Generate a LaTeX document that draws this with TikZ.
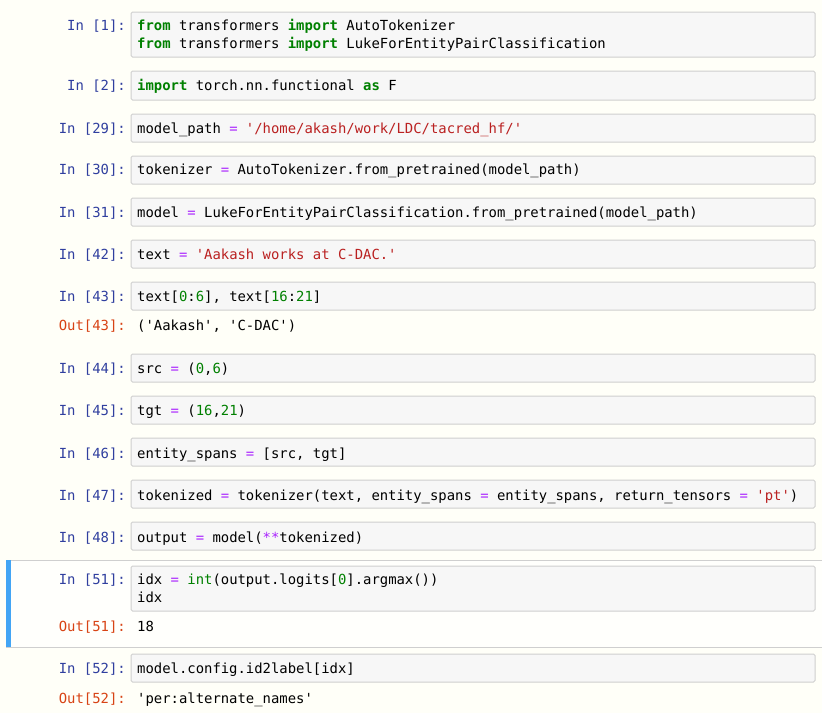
\documentclass[tikz,border=0pt]{standalone}
\usepackage{fontspec}
\setmonofont{DejaVu Sans Mono}
\definecolor{bg}{HTML}{FFFFF8}
\definecolor{boxfill}{HTML}{F7F7F7}
\definecolor{boxline}{HTML}{CFCFCF}
\definecolor{pin}{HTML}{303F9F}
\definecolor{pout}{HTML}{D84315}
\definecolor{kwc}{HTML}{008000}
\definecolor{stc}{HTML}{BA2121}
\definecolor{opc}{HTML}{AA22FF}
\definecolor{selbar}{HTML}{42A5F5}
\newcommand{\kw}[1]{\textcolor{kwc}{\bfseries #1}}
\newcommand{\bi}[1]{\textcolor{kwc}{#1}}
\newcommand{\st}[1]{\textcolor{stc}{#1}}
\newcommand{\op}[1]{\textcolor{opc}{#1}}
\tikzset{
  cellbox/.style={draw=boxline,fill=boxfill,line width=1pt,rounded corners=1.5pt},
  code/.style={anchor=base west,inner sep=0pt,font=\ttfamily\fontsize{13.9}{18}\selectfont},
  pr/.style={anchor=base east,inner sep=0pt,font=\ttfamily\fontsize{13.9}{18}\selectfont,text=pin},
  po/.style={anchor=base east,inner sep=0pt,font=\ttfamily\fontsize{13.9}{18}\selectfont,text=pout},
}
\begin{document}
\begin{tikzpicture}[x=1pt,y=-1pt]
\fill[bg] (0,0) rectangle (822,713);
\useasboundingbox (0,0) rectangle (822,713);
% selected cell
\draw[boxline,line width=0.8pt,fill=white!60!bg] (6,560) rectangle (830,647);
\fill[selbar] (6,560) rectangle (11,647);
\newcommand{\cell}[5]{% name, top, bottom, prompt, baseline
  \draw[cellbox] (131,#2) rectangle (815,#3);
  \node[pr] (p#1) at (126,#5) {In [#4]:};
}
\cell{a}{12}{57}{1}{30}
\node[code] (ca) at (137,30) {\kw{from} transformers \kw{import} AutoTokenizer};
\node[code] (ca2) at (137,48) {\kw{from} transformers \kw{import} LukeForEntityPairClassification};
\cell{b}{71}{100}{2}{90}
\node[code] (cb) at (137,90) {\kw{import} torch.nn.functional \kw{as} F};
\cell{c}{114}{142}{29}{133}
\node[code] (cc) at (137,133) {model\_path \op{=} \st{'/home/akash/work/LDC/tacred\_hf/'}};
\cell{d}{156}{184}{30}{174}
\node[code] (cd) at (137,174) {tokenizer \op{=} AutoTokenizer.from\_pretrained(model\_path)};
\cell{e}{198}{226}{31}{217}
\node[code] (ce) at (137,217) {model \op{=} LukeForEntityPairClassification.from\_pretrained(model\_path)};
\cell{f}{240}{268}{42}{259}
\node[code] (cf) at (137,259) {text \op{=} \st{'Aakash works at C-DAC.'}};
\cell{g}{282}{310}{43}{301}
\node[code] (cg) at (137,301) {text[\bi{0}:\bi{6}], text[\bi{16}:\bi{21}]};
\node[po] (og) at (126,330) {Out[43]:};
\node[code] (rg) at (137,330) {('Aakash', 'C-DAC')};
\cell{h}{354}{382}{44}{373}
\node[code] (ch) at (137,373) {src \op{=} (\bi{0},\bi{6})};
\cell{i}{396}{424}{45}{415}
\node[code] (ci) at (137,415) {tgt \op{=} (\bi{16},\bi{21})};
\cell{j}{438}{466}{46}{458}
\node[code] (cj) at (137,458) {entity\_spans \op{=} [src, tgt]};
\cell{k}{480}{508}{47}{500}
\node[code] (ck) at (137,500) {tokenized \op{=} tokenizer(text, entity\_spans \op{=} entity\_spans, return\_tensors \op{=} \st{'pt'})};
\cell{l}{522}{550}{48}{542}
\node[code] (cl) at (137,542) {output \op{=} model(\op{**}tokenized)};
\cell{m}{566}{611}{51}{584}
\node[code] (cm) at (137,584) {idx \op{=} \bi{int}(output.logits[\bi{0}].argmax())};
\node[code] (cm2) at (137,602) {idx};
\node[po] (om) at (126,631) {Out[51]:};
\node[code] (rm) at (137,631) {18};
\cell{n}{654}{682}{52}{673}
\node[code] (cn) at (137,673) {model.config.id2label[idx]};
\node[po] (on) at (126,703) {Out[52]:};
\node[code] (rn) at (137,703) {'per:alternate\_names'};
\end{tikzpicture}
\end{document}
